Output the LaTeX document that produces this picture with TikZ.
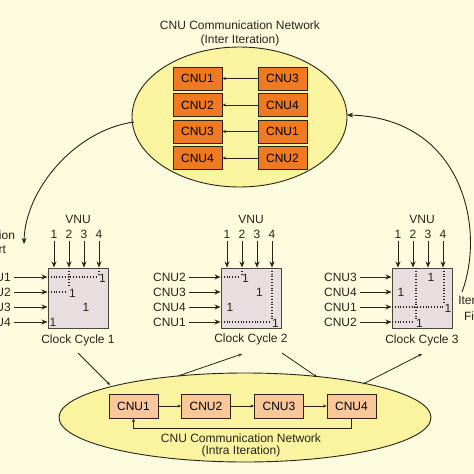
\documentclass[tikz,border=0pt]{standalone}
\usepackage{fontspec}
\setmainfont{Liberation Sans}
\usetikzlibrary{arrows.meta,shapes.geometric}
\definecolor{bgc}{HTML}{FDFBDD}
\definecolor{ellc}{HTML}{FAF3A0}
\definecolor{orng}{HTML}{F07A22}
\definecolor{lorng}{HTML}{F9C89A}
\definecolor{matc}{HTML}{E6DEDF}
\definecolor{ink}{HTML}{2A2418}
\tikzset{
 ell/.style={ellipse, draw=ink, line width=0.9pt, fill=ellc, inner sep=0pt},
 obox/.style={draw=ink, line width=0.9pt, fill=orng, minimum width=49pt, minimum height=23pt, inner sep=0pt},
 lbox/.style={draw=ink, line width=0.9pt, fill=lorng, minimum width=49pt, minimum height=24pt, inner sep=0pt},
 mat/.style={draw=ink!85, line width=1pt, fill=matc, minimum size=60pt, inner sep=0pt},
 arr/.style={draw=ink, line width=0.9pt, -{Stealth[length=6pt,width=5pt]}},
 sarr/.style={draw=ink, line width=0.8pt, -{Stealth[length=3.5pt,width=3pt]}},
 dotline/.style={draw=ink, line width=1.1pt, dash pattern=on 1pt off 1.8pt},
 txt/.style={inner sep=1pt, text=ink},
 one/.style={inner sep=0pt, text=ink},
}
\begin{document}
\begin{tikzpicture}[x=1pt,y=-1pt,font=\fontsize{12}{14}\selectfont]
\useasboundingbox (0,0) rectangle (474,474);
\clip (0,0) rectangle (474,474);
\fill[bgc] (0,0) rectangle (474,474);

% ---------- top ellipse ----------
\node[txt] (tt1) at (240,25) {CNU Communication Network};
\node[txt] (tt2) at (240,40) {(Inter Iteration)};
\node[ell, minimum width=215pt, minimum height=140pt] (topE) at (239.5,117) {};
\node[obox] (l1) at (197.5,78.5) {CNU1};
\node[obox] (l2) at (197.5,105) {CNU2};
\node[obox] (l3) at (197.5,131.5) {CNU3};
\node[obox] (l4) at (197.5,158) {CNU4};
\node[obox] (r1) at (282.5,78.5) {CNU3};
\node[obox] (r2) at (282.5,105) {CNU4};
\node[obox] (r3) at (282.5,131.5) {CNU1};
\node[obox] (r4) at (282.5,158) {CNU2};
\foreach \i in {1,2,3,4} \draw[sarr] (r\i.west) -- (l\i.east);

% ---------- iteration start / finish ----------
\node[txt, align=center] (istart) at (-6.7,242) {Iteration\\Start};
\node[txt, align=center] (ifin) at (480,308) {Iteration\\[2pt]Finish};
\coordinate (ls) at (134,122);
\coordinate (le) at (24,244);
\draw[arr] (ls) .. controls (75,130) and (25,190) .. (le);
\coordinate (rs) at (462,292);
\coordinate (re) at (347,115);
\draw[arr] (rs) .. controls (486,228) and (462,118) .. (re);

% ---------- clock cycle 1 ----------
\begin{scope}[shift={(48,268)}]
\node[mat] (m1) at (30,30) {};
\node[txt] (v1) at (30,-49) {VNU};
\foreach \j/\x in {1/6,2/21,3/36,4/51}{
  \node[txt] (n1\j) at (\x,-34) {\j};
  \draw[arr] ([yshift=-2pt]n1\j.south) -- (n1\j.south |- m1.north);
}
\foreach \j/\lab/\y in {1/CNU1/9,2/CNU2/24,3/CNU3/39,4/CNU4/54}{
  \node[txt, anchor=east] (c1\j) at (-36,\y) {\lab};
  \draw[arr] ([xshift=2pt]c1\j.east) -- (c1\j.east -| m1.west);
}
\draw[dotline] (0,9) -- (49,9);
\draw[dotline] (51,0) -- (51,7);
\node[one] (e11) at (54.5,10) {1};
\draw[dotline] (0,24) -- (19,24);
\draw[dotline] (21,0) -- (21,19);
\node[one] (e12) at (24.5,25) {1};
\node[one] (e13) at (38,39) {1};
\node[one] (e14) at (5,54) {1};
\node[txt] (cc1) at (30,72) {Clock Cycle 1};
\end{scope}

% ---------- clock cycle 2 ----------
\begin{scope}[shift={(221,268)}]
\node[mat] (m2) at (30,30) {};
\node[txt] (v2) at (30,-49) {VNU};
\foreach \j/\x in {1/6,2/21,3/36,4/51}{
  \node[txt] (n2\j) at (\x,-34) {\j};
  \draw[arr] ([yshift=-2pt]n2\j.south) -- (n2\j.south |- m2.north);
}
\foreach \j/\lab/\y in {1/CNU2/9,2/CNU3/24,3/CNU4/39,4/CNU1/54}{
  \node[txt, anchor=east] (c2\j) at (-34,\y) {\lab};
  \draw[arr] ([xshift=2pt]c2\j.east) -- (c2\j.east -| m2.west);
}
\draw[dotline] (0,9) -- (19,9);
\draw[dotline] (21,0) -- (21,6);
\node[one] (e21) at (24.5,10) {1};
\node[one] (e22) at (38.5,24) {1};
\node[one] (e23) at (9,39) {1};
\draw[dotline] (0,54) -- (49,54);
\draw[dotline] (51,0) -- (51,51);
\node[one] (e24) at (54.5,55) {1};
\node[txt] (cc2) at (30,71) {Clock Cycle 2};
\end{scope}

% ---------- clock cycle 3 ----------
\begin{scope}[shift={(392,268)}]
\node[mat] (m3) at (30,30) {};
\node[txt] (v3) at (30,-49) {VNU};
\foreach \j/\x in {1/6,2/21,3/36,4/51}{
  \node[txt] (n3\j) at (\x,-34) {\j};
  \draw[arr] ([yshift=-2pt]n3\j.south) -- (n3\j.south |- m3.north);
}
\foreach \j/\lab/\y in {1/CNU3/9,2/CNU4/24,3/CNU1/39,4/CNU2/54}{
  \node[txt, anchor=east] (c3\j) at (-34,\y) {\lab};
  \draw[arr] ([xshift=2pt]c3\j.east) -- (c3\j.east -| m3.west);
}
\node[one] (e31) at (39,9) {1};
\node[one] (e32) at (9,24) {1};
\draw[dotline] (0,39) -- (52,39);
\draw[dotline] (52,0) -- (52,36);
\node[one] (e33) at (56,40) {1};
\draw[dotline] (0,54) -- (22,54);
\draw[dotline] (24,0) -- (24,51);
\node[one] (e34) at (27.5,55) {1};
\node[txt] (cc3) at (30,72) {Clock Cycle 3};
\end{scope}

% ---------- bottom ellipse ----------
\node[ell, minimum width=372pt, minimum height=89pt] (botE) at (245,417.5) {};
\node[lbox] (b1) at (133.5,406) {CNU1};
\node[lbox] (b2) at (206,406) {CNU2};
\node[lbox] (b3) at (279,406) {CNU3};
\node[lbox] (b4) at (351.5,406) {CNU4};
\draw[sarr] (b1.east) -- (b2.west);
\draw[sarr] (b2.east) -- (b3.west);
\draw[sarr] (b3.east) -- (b4.west);
\draw[sarr] (b4.south) -- ++(0,10) -| (b1.south);
\node[txt] (bt1) at (241,438) {CNU Communication Network};
\node[txt] (bt2) at (241,451) {(Intra Iteration)};

% ---------- cycle / network connectors ----------
\coordinate (a1s) at (78,353);
\coordinate (a1e) at (110,385);
\coordinate (a2s) at (178,376);
\coordinate (a2e) at (242,354);
\coordinate (a3s) at (282,353);
\coordinate (a3e) at (317,377);
\coordinate (a4s) at (363,384);
\coordinate (a4e) at (422,354);
\draw[sarr] (a1s) -- (a1e);
\draw[sarr] (a2s) -- (a2e);
\draw[sarr] (a3s) -- (a3e);
\draw[sarr] (a4s) -- (a4e);
\end{tikzpicture}
\end{document}
